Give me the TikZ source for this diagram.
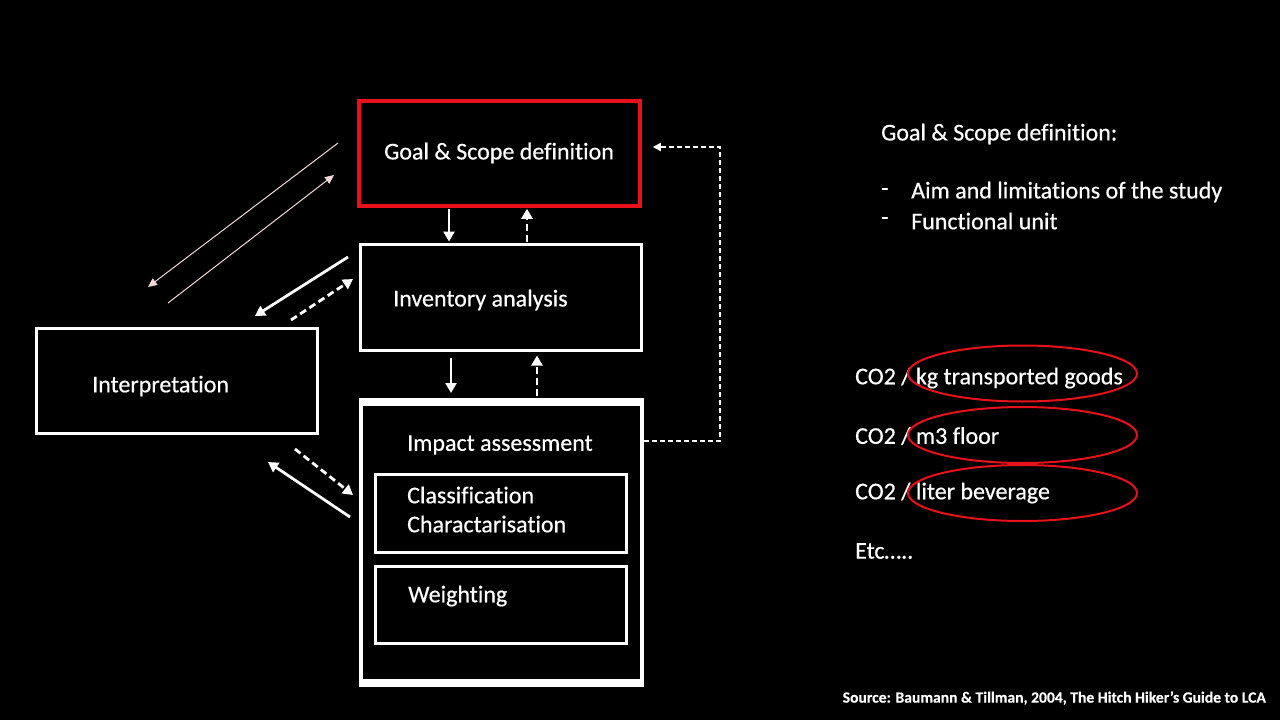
\documentclass[tikz,border=0pt]{standalone}
\usepackage{fontspec}
\setmainfont{Carlito}[FakeBold=0.5,Ligatures=NoCommon]
\newfontfamily\srcfont{Carlito}[FakeBold=0.3,Ligatures=NoCommon]
\usetikzlibrary{arrows.meta,calc}
\definecolor{lcared}{HTML}{E8101A}
\definecolor{pinkline}{HTML}{F2D8D8}
\tikzset{
  box/.style={draw=white, line width=3pt, inner sep=0pt, fill=black},
  lbl/.style={text=white, font=\fontsize{24}{28}\selectfont, anchor=west, inner sep=0pt},
  solidarr/.style={draw=white, line width=2.8pt, -{Triangle[length=10pt,width=11pt]}},
  dasharr/.style={draw=white, line width=2.8pt, dash pattern=on 7pt off 4pt, -{Triangle[length=10pt,width=11pt]}},
  thinarr/.style={draw=pinkline, line width=1pt, -{Triangle[length=9pt,width=8pt]}},
  fbline/.style={draw=white, line width=1.6pt, dash pattern=on 5pt off 3pt},
  redell/.style={draw=lcared, line width=2pt}
}
\begin{document}
\begin{tikzpicture}[x=1pt,y=-1pt]
\fill[black] (0,0) rectangle (1280,720);
\useasboundingbox (0,0) rectangle (1280,720);

% boxes
\node[box, draw=lcared, line width=3.5pt, minimum width=281pt, minimum height=105pt] (goal) at (499.5,153.5) {};
\node[box, minimum width=281pt, minimum height=106pt] (inv) at (500.5,297) {};
\node[box, minimum width=281pt, minimum height=105pt] (interp) at (176.5,380.5) {};
\node[box, line width=4pt, minimum width=281pt, minimum height=277pt] (imp) at (501.5,542.5) {};
\draw[white, line width=8pt] (imp.north west) -- (imp.north east);
\draw[white, line width=7pt] (imp.south west) -- (imp.south east);
\node[box, minimum width=251pt, minimum height=78pt] (clas) at (500.5,513) {};
\node[box, minimum width=251pt, minimum height=77pt] (weight) at (500.5,604.5) {};

% labels
\node[lbl] (tgoal) at (384,153) {Goal \& Scope definition};
\node[lbl] (tinv) at (393,300) {Inventory analysis};
\node[lbl] (tint) at (92,386) {Interpretation};
\node[lbl] (timp) at (407,445) {Impact assessment};
\node[lbl] (tcl1) at (407,495) {Classification};
\node[lbl] (tcl2) at (407,524) {Charactarisation};
\node[lbl] (twt) at (408,596) {Weighting};

% vertical arrows
\draw[solidarr] ([xshift=-50.5pt,yshift=-1pt]goal.south) -- ([xshift=-51.5pt,yshift=1pt]inv.north);
\draw[dasharr] ([xshift=26.5pt,yshift=1pt]inv.north) -- ([xshift=27.5pt,yshift=-1pt]goal.south);
\draw[solidarr] ([xshift=-49.5pt,yshift=-6pt]inv.south) -- ([xshift=-50.5pt,yshift=9pt]imp.north);
\draw[dasharr] ([xshift=35.5pt,yshift=6pt]imp.north) -- ([xshift=36.5pt,yshift=-4pt]inv.south);

% diagonal arrows to/from goal
\coordinate (d1s) at (338,143);
\coordinate (d1e) at (148,287);
\coordinate (d2s) at (168,303);
\coordinate (d2e) at (334,175);
\draw[thinarr] (d1s) -- (d1e);
\draw[thinarr] (d2s) -- (d2e);

% inventory <-> interpretation
\coordinate (e1s) at (348,257);
\coordinate (e1e) at (255,316);
\coordinate (e2s) at (291,320);
\coordinate (e2e) at (353,279);
\draw[solidarr] (e1s) -- (e1e);
\draw[dasharr] (e2s) -- (e2e);

% impact <-> interpretation
\coordinate (f1s) at (295,449);
\coordinate (f1e) at (353,495);
\coordinate (f2s) at (350,517);
\coordinate (f2e) at (268,462);
\draw[dasharr] (f1s) -- (f1e);
\draw[solidarr] (f2s) -- (f2e);

% feedback dashed line
\coordinate (fbr) at (720,441);
\coordinate (fbt) at (720,147);
\draw[fbline, -{Triangle[length=8pt,width=8pt]}] (imp.east |- fbr) -- (fbr) -- (fbt) -- ([xshift=11pt]goal.east |- fbt);

% right side text
\node[lbl] (rh) at (881,134) {Goal \& Scope definition:};
\node[lbl] (rd1) at (881,192) {-};
\node[lbl] (ra1) at (911,192) {Aim and limitations of the study};
\node[lbl] (rd2) at (881,221) {-};
\node[lbl] (ra2) at (911,221) {Functional unit};

\node[lbl] (c1) at (855,378) {CO2 / kg transported goods};
\node[lbl] (c2) at (855,436) {CO2 / m3 floor};
\node[lbl] (c3) at (855,493) {CO2 / liter beverage};
\node[lbl] (c4) at (855,551) {Etc\dots..};

\draw[redell] (1022.5,373.5) ellipse (114.5pt and 28pt);
\draw[redell] (1022.5,435) ellipse (114.5pt and 28pt);
\draw[redell] (1022.5,493) ellipse (114.5pt and 28pt);

% source
\node[text=white, font=\srcfont\bfseries\fontsize{15.6}{18}\selectfont, anchor=east, inner sep=0pt] (src) at (1266,698) {Source: Baumann \& Tillman, 2004, The Hitch Hiker’s Guide to LCA};
\end{tikzpicture}
\end{document}
